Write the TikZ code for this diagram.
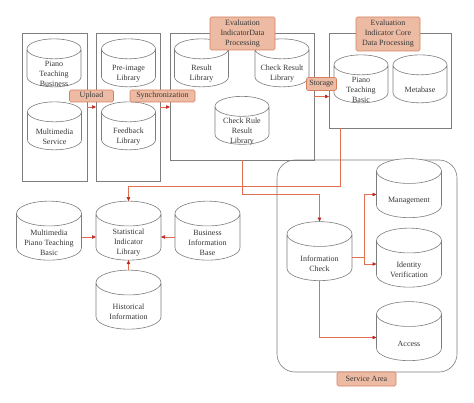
\documentclass[tikz,border=0pt]{standalone}
\usepackage{fontspec}
\setmainfont{Liberation Serif}
\usetikzlibrary{shapes.geometric}
\usetikzlibrary{arrows.meta}
\definecolor{ngray}{RGB}{125,125,125}
\definecolor{ntext}{RGB}{55,55,55}
\definecolor{nred}{RGB}{224,110,80}
\definecolor{ndark}{RGB}{190,40,35}
\definecolor{nsalmon}{RGB}{237,187,163}
\definecolor{nedge}{RGB}{214,128,96}

\begin{document}
\begin{tikzpicture}[x=1pt,y=-1pt,line width=0.6pt,font=\fontsize{8}{10}\selectfont,text=ntext]
    \tikzstyle{every node}=[inner sep=0,outer sep=0,align=center]
    \tikzstyle{frame}=[draw=ngray]
    \tikzstyle{db}=[cylinder,shape border rotate=90,aspect=0.4,draw=ngray,fill=white,minimum width=54pt,minimum height=48pt,text width=50pt]
    \tikzstyle{big}=[db,minimum width=65pt,minimum height=59pt,text width=62pt]
    \tikzstyle{txt}=[yshift=-6pt]
    \tikzstyle{tag}=[draw=nedge,fill=nsalmon,rounded corners=1.5pt,minimum height=12pt]
    \tikzstyle{flow}=[draw=nred,-{Triangle[length=4pt,width=3.5pt,color=ndark]}]
    \useasboundingbox (0,0) rectangle (474,403);

    % frames
    \node[frame,minimum width=65pt,minimum height=148pt] (bizbox) at (54.5,107) {};
    \node[frame,minimum width=64pt,minimum height=148pt] (prebox) at (128,107) {};
    \node[frame,minimum width=144pt,minimum height=127pt] (evalbox) at (242,96.5) {};
    \node[frame,minimum width=122pt,minimum height=95pt] (corebox) at (390,80.5) {};
    \node[frame,rounded corners=18pt,minimum width=180pt,minimum height=212pt] (svc) at (367,266) {};

    % libraries
    \node[db,label={[txt]center:Piano\\Teaching\\Business}] (ptb) at (54,68) {};
    \node[db,label={[txt]center:Multimedia\\Service}] (mms) at (54.5,131) {};
    \node[db,label={[txt]center:Pre-image\\Library}] (pil) at (128.5,68) {};
    \node[db,label={[txt]center:Feedback\\Library}] (fbl) at (128.5,131) {};
    \node[db,label={[txt]center:Result\\Library}] (rsl) at (201.5,68) {};
    \node[db,label={[txt]center:Check Result\\Library}] (crl) at (282,68) {};
    \node[db,label={[txt]center:Check Rule\\Result\\Library}] (crr) at (242,125.5) {};
    \node[db,label={[txt]center:Piano\\Teaching\\Basic}] (ptc) at (361,84) {};
    \node[db,label={[txt]center:Metabase}] (mtb) at (420,84) {};

    \node[big,label={[txt]center:Multimedia\\Piano Teaching\\Basic}] (mpt) at (49,237) {};
    \node[big,label={[txt]center:Statistical\\Indicator\\Library}] (sil) at (128.5,237) {};
    \node[big,label={[txt]center:Business\\Information\\Base}] (bib) at (207.5,237) {};
    \node[big,label={[txt]center:Historical\\Information}] (his) at (128.5,306) {};
    \node[big,label={[txt]center:Information\\Check}] (ick) at (319.5,257.5) {};
    \node[big,label={[txt]center:Management}] (mgt) at (409,194.5) {};
    \node[big,label={[txt]center:Identity\\Verification}] (idv) at (409,264) {};
    \node[big,label={[txt]center:Access}] (acc) at (409,337.5) {};

    % tags
    \node[tag,minimum width=65pt,minimum height=33pt] (evaltag) at (242.5,33.5) {Evaluation\\IndicatorData\\Processing};
    \node[tag,minimum width=64pt,minimum height=34pt] (coretag) at (388,34) {Evaluation\\Indicator Core\\Data Processing};
    \node[tag,minimum width=44pt] (uptag) at (91.5,96) {Upload};
    \node[tag,minimum width=65pt] (synctag) at (162.5,96) {Synchronization};
    \node[tag,minimum width=30pt,minimum height=13pt] (stotag) at (321.5,84) {Storage};
    \node[tag,minimum width=59pt,minimum height=14pt] (svctag) at (366.5,379) {Service Area};

    \draw[flow] (bizbox.east) -- (prebox.west);
    \draw[flow] (prebox.east) -- (prebox.east -| evalbox.west);
    \draw[flow] (evalbox.east) -- (evalbox.east -| corebox.west);
    \draw[flow] (evalbox.south) -- ++(0,34) -| (ick.north);
    \coordinate (coreout) at (340,128);
    \draw[flow] (coreout) -- ++(0,58) -| (sil.north);
    \draw[flow] (ick.east) -- ++(12,0) |- (mgt.west);
    \draw[flow] (ick.east) -- ++(12,0) |- (idv.west);
    \draw[flow] (ick.south) |- (acc.west);
    \draw[flow] (mpt.east) -- (sil.west);
    \draw[flow] (bib.west) -- (sil.east);
    \draw[flow] (his.north) -- (sil.south);
\end{tikzpicture}
\end{document}
